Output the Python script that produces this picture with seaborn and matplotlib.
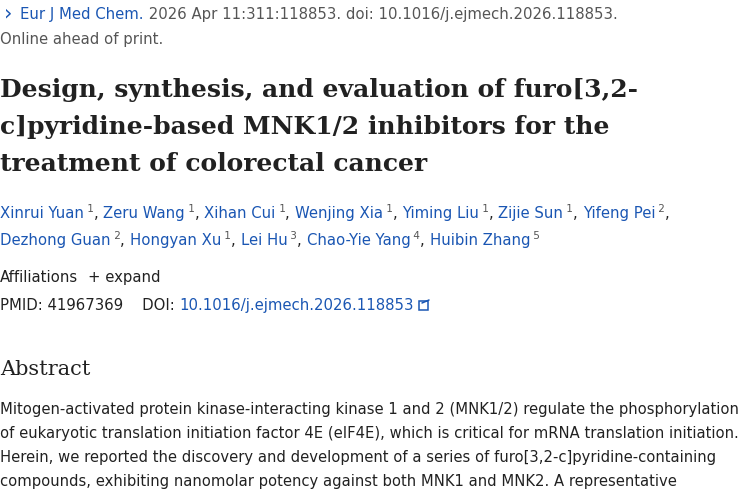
import matplotlib
matplotlib.use("Agg")
import matplotlib.pyplot as plt
import matplotlib.patches as mpatches
import seaborn as sns

sns.set_theme(style="white")
plt.rcParams['font.family'] = ['DejaVu Sans']

BLUE = "#1a56b3"
GRAY = "#555555"
DARK = "#212121"

citation_parts = [("Eur J Med Chem.", BLUE), (" 2026 Apr 11:311:118853. doi: 10.1016/j.ejmech.2026.118853.", GRAY)]
status = "Online ahead of print."
title_lines = ["Design, synthesis, and evaluation of furo[3,2-",
               "c]pyridine-based MNK1/2 inhibitors for the",
               "treatment of colorectal cancer"]
authors_line1 = [("Xinrui Yuan", "1"), ("Zeru Wang", "1"), ("Xihan Cui", "1"), ("Wenjing Xia", "1"),
                 ("Yiming Liu", "1"), ("Zijie Sun", "1"), ("Yifeng Pei", "2")]
authors_line2 = [("Dezhong Guan", "2"), ("Hongyan Xu", "1"), ("Lei Hu", "3"), ("Chao-Yie Yang", "4"),
                 ("Huibin Zhang", "5")]
pmid = "41967369"
doi = "10.1016/j.ejmech.2026.118853"
abstract_lines = [
    "Mitogen-activated protein kinase-interacting kinase 1 and 2 (MNK1/2) regulate the phosphorylation",
    "of eukaryotic translation initiation factor 4E (eIF4E), which is critical for mRNA translation initiation.",
    "Herein, we reported the discovery and development of a series of furo[3,2-c]pyridine-containing",
    "compounds, exhibiting nanomolar potency against both MNK1 and MNK2. A representative",
]

W, H = 750, 500
fig = plt.figure(figsize=(7.5, 5), dpi=100)
fig.patch.set_facecolor("white")
fig.canvas.draw()
renderer = fig.canvas.get_renderer()

def T(x, y, s, **kw):
    return fig.text(x / W, 1 - y / H, s, va="baseline", ha="left", **kw)

def run(x, y, parts):
    for s, dy, kw in parts:
        t = T(x, y - dy, s, **kw)
        x = t.get_window_extent(renderer).x1
    return x

T(4, 19, "\u203a", color=BLUE, fontsize=15)
run(20, 19, [(s, 0, dict(color=c, fontsize=10.7)) for s, c in citation_parts])
T(0, 44, status, color=GRAY, fontsize=10.7)

for i, line in enumerate(title_lines):
    T(0, 97 + 37 * i, line, fontsize=18, fontweight="bold", color=DARK, family="DejaVu Serif")

def authors(y, lst, last_comma):
    parts = []
    for i, (n, sup) in enumerate(lst):
        parts.append((n, 0, dict(color=BLUE, fontsize=10.7)))
        parts.append((" " + sup, 6, dict(color=GRAY, fontsize=7.5)))
        if i < len(lst) - 1 or last_comma:
            parts.append((", ", 0, dict(color=DARK, fontsize=10.7)))
    run(0, y, parts)

authors(218, authors_line1, True)
authors(245, authors_line2, False)

T(0, 282, "Affiliations", color=DARK, fontsize=10.7)
T(88, 282, "+ expand", color=DARK, fontsize=10.7)
x = run(0, 310, [("PMID: " + pmid + "    DOI: ", 0, dict(color=DARK, fontsize=10.7)),
                 (doi, 0, dict(color=BLUE, fontsize=10.7))])
x0 = x + 5
fig.patches.append(mpatches.Rectangle((x0 / W, 1 - 310 / H), 9 / W, 9 / H, fill=False,
                                      edgecolor=BLUE, lw=1.1, transform=fig.transFigure))
fig.lines.append(plt.Line2D([(x0 + 3) / W, (x0 + 10) / W], [1 - 303 / H, 1 - 310 / H + 9 / H + 0.002],
                            color=BLUE, lw=1.1, transform=fig.transFigure))

T(0, 375, "Abstract", fontsize=15, color=DARK, family="DejaVu Serif")
for i, line in enumerate(abstract_lines):
    T(0, 414 + 24 * i, line, color=DARK, fontsize=10.6)

fig.savefig("out.png", dpi=100, facecolor="white")
